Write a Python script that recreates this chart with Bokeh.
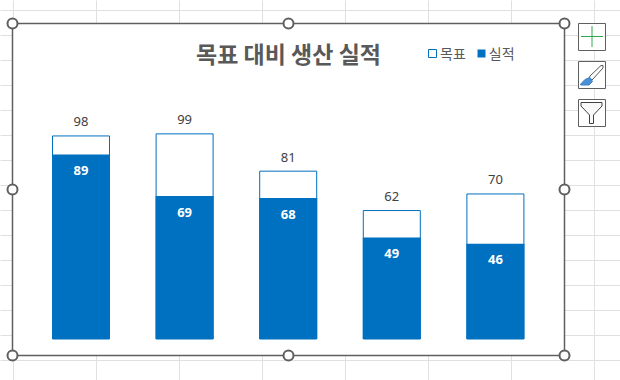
from bokeh.plotting import figure
from bokeh.models import Range1d, Legend, LegendItem
from bokeh.core.properties import value
from bokeh.embed import file_html
from bokeh.resources import INLINE

# ---- data
categories = [0, 1, 2, 3, 4]
target = [98, 99, 81, 62, 70]
actual = [89, 69, 68, 49, 46]
title_text = "목표 대비 생산 실적"
series_names = ["목표", "실적"]

# ---- colours
BLUE = "#0070c0"
GRID = "#e0e0e0"
FRAME = "#5f5f5f"
KR = "Noto Sans CJK KR"

# ---- scale: where category 0 / value 0 sit in the plot
W, H = 620, 380
STEP, UNIT = 103.6, 2.072        # px per category, px per value
X0, Y0 = 80.5, 338.5             # px of category 0, value 0 inside the plot

p = figure(width=W, height=H, output_backend="svg", toolbar_location=None,
           x_range=Range1d(-X0 / STEP, (W - X0) / STEP),
           y_range=Range1d((Y0 - H) / UNIT, Y0 / UNIT),
           min_border=0, background_fill_color="white")
p.axis.visible = False
p.grid.visible = False
p.outline_line_color = None
# screen-pixel ranges for the spreadsheet furniture round the chart
p.extra_x_ranges["px"] = Range1d(0.5, W + 0.5)
p.extra_y_ranges["px"] = Range1d(H + 0.5, 0.5)
PX = dict(x_range_name="px", y_range_name="px")

# ---- sheet grid
vgrid = [13.5, 96.5, 179.5, 262.5, 345.5, 428.5, 511.5, 594.5]
hgrid = [10.5, 35.5, 60.5, 85.5, 110.5, 135.5, 160.5, 185.5, 210.5, 235.5,
         260.5, 285.5, 310.5, 335.5, 360.5]
p.multi_line([[v, v] for v in vgrid], [[0, H + 1] for _ in vgrid], line_color=GRID, line_width=1, **PX)
p.multi_line([[0, W + 1] for _ in hgrid], [[h, h] for h in hgrid], line_color=GRID, line_width=1, **PX)

# ---- chart frame
p.quad(left=[12.5], right=[564.5], top=[23.5], bottom=[355.5], fill_color="white",
       line_color=FRAME, line_width=1.5, **PX)

# ---- bars
r_target = p.vbar(x=categories, top=target, bottom=0, width=57 / STEP,
                  fill_color="white", line_color=BLUE, line_width=1)
r_actual = p.vbar(x=categories, top=actual, bottom=0, width=58 / STEP,
                  fill_color=BLUE, line_color=None)

# ---- data labels
p.text(x=categories, y=target, text=[str(v) for v in target], y_offset=-14,
       text_align="center", text_baseline="middle", text_color="#404040",
       text_font=value("Noto Sans"), text_font_size="13px")
p.text(x=categories, y=actual, text=[str(v) for v in actual], y_offset=16,
       text_align="center", text_baseline="middle", text_color="white",
       text_font=value("Noto Sans"), text_font_size="13px", text_font_style="bold")

# ---- title
p.text(x=[288.5], y=[53], text=[title_text], text_align="center", text_baseline="middle",
       text_color="#595959", text_font=value(KR), text_font_size="23px",
       text_font_style="bold", **PX)

# ---- legend
legend = Legend(items=[LegendItem(label=series_names[0], renderers=[r_target]),
                       LegendItem(label=series_names[1], renderers=[r_actual])],
                orientation="horizontal", location=(427, H - 63),
                background_fill_alpha=0, border_line_color=None,
                label_text_font=KR, label_text_font_size="14px", label_text_color="#595959",
                glyph_width=10, glyph_height=10, label_standoff=3, spacing=10,
                padding=0, margin=0)
p.add_layout(legend, "center")

# ---- selection handles
hx = [12.5, 288.5, 564.5, 12.5, 564.5, 12.5, 288.5, 564.5]
hy = [23.5, 23.5, 23.5, 189.5, 189.5, 355.5, 355.5, 355.5]
p.scatter(hx, hy, size=10, fill_color="white", line_color=FRAME, line_width=2, **PX)

# ---- side buttons
p.quad(left=[578.5] * 3, right=[605.5] * 3, top=[23.5, 61.5, 99.5], bottom=[50.5, 88.5, 126.5],
       fill_color="white", line_color=FRAME, line_width=1, **PX)
# plus
p.multi_line([[581, 603], [592, 592]], [[36.5, 36.5], [26, 47]], line_color="#2ea84f", line_width=1, **PX)
# brush
p.patch([601, 603, 603, 592, 589, 590], [65.5, 65.5, 68, 80, 78, 76], fill_color="white",
        line_color="#555555", line_width=1, **PX)
p.patch([580.7, 585, 590, 592.5, 589, 580.7], [84, 79.5, 77.5, 81.5, 85, 85], fill_color="#4a90d9",
        line_color="#3b7fc4", line_width=1, **PX)
# funnel
p.patch([581, 602, 602, 593.5, 593.5, 589.5, 589.5, 581],
        [102.5, 102.5, 106, 115, 123.5, 123.5, 115, 106], fill_color="#f8f8f8",
        line_color="#404040", line_width=1, **PX)

open("out.html", "w").write(file_html(p, INLINE))
